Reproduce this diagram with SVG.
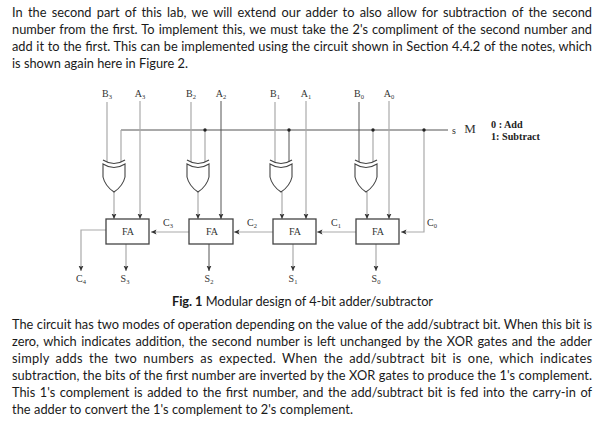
<svg xmlns="http://www.w3.org/2000/svg" width="605" height="429" viewBox="0 0 605 429">
<defs>
<marker id="ah" markerWidth="7" markerHeight="6" refX="5.500" refY="2.500" orient="auto" markerUnits="userSpaceOnUse"><path d="M0 0L5.500 2.500L0 5L1.200 2.500Z" fill="#333"/></marker>
<g id="xor"><path d="M0 0Q11 7 22 0" class="g"/><path d="M0 4Q11 11 22 4V17Q20 26 11 32Q2 26 0 17Z" class="g"/></g>
</defs>
<style>
.p{font:12.8px Lato,"Liberation Sans",sans-serif;fill:#1a1a1a}
.l{font:10px "Liberation Serif",serif;fill:#333;text-anchor:middle}
.s{font-size:6.500px}
.w{fill:none;stroke:#aaa;stroke-width:1.2;marker-end:url(#ah)}
.n{fill:none;stroke:#aaa;stroke-width:1.2}
.d{fill:none;stroke:#555;stroke-width:1}
.e{marker-end:url(#ah)}
.g{fill:none;stroke:#444;stroke-width:1.1}
.fa{fill:#fff;stroke:#444;stroke-width:1.300}
.b{font:bold 10.200px "Liberation Serif",serif;fill:#222}
.dot{fill:#222}
</style>
<rect width="605" height="429" fill="#fff"/>
<g id="text-top">
<text class="p" x="12" y="17" word-spacing="2" textLength="580">In the second part of this lab, we will extend our adder to also allow for subtraction of the second</text>
<text class="p" x="12" y="34" word-spacing="0.8" textLength="580">number from the first. To implement this, we must take the 2's compliment of the second number and</text>
<text class="p" x="12" y="51" word-spacing="0.4" textLength="580">add it to the first. This can be implemented using the circuit shown in Section 4.4.2 of the notes, which</text>
<text class="p" x="12" y="68" textLength="176">is shown again here in Figure 2.</text>
</g>
<g id="connectors">
<path class="d" d="M121 130H448"/>
<path class="n" d="M121 130V162M107 102V162M191 102V162M205 130V162M275 102V162M373 130V162"/>
<path class="d" d="M289 130V162M359 102V162"/>
<path class="w" d="M140 101V219"/>
<path class="d e" d="M221 101V219"/>
<path class="w" d="M306 101V219"/>
<path class="w" d="M389 101V219"/>
<path class="w" d="M114 192V219"/>
<path class="w" d="M198 192V219"/>
<path class="w" d="M282 192V219"/>
<path class="w" d="M367 192V219"/>
<path class="w" d="M189 232H151"/>
<path class="w" d="M273 232H234"/>
<path class="w" d="M356 232H317"/>
<path class="w" d="M424 130V232H401"/>
<path class="w" d="M106 230H81V271"/>
<path class="w" d="M126 244V271"/>
<path class="d e" d="M209 244V271"/>
<path class="w" d="M293 244V271"/>
<path class="w" d="M376 244V271"/>
<circle class="dot" cx="205" cy="130" r="1.700"/><circle class="dot" cx="289" cy="130" r="1.700"/><circle class="dot" cx="373" cy="130" r="1.700"/><circle class="dot" cx="424" cy="130" r="1.700"/>
</g>
<g id="xor3"><use href="#xor" x="103" y="160"/></g>
<g id="xor2"><use href="#xor" x="187" y="160"/></g>
<g id="xor1"><use href="#xor" x="270" y="160"/></g>
<g id="xor0"><use href="#xor" x="355" y="160"/></g>
<g id="fa3"><rect class="fa" x="106" y="219" width="43" height="25"/><text class="l" x="128" y="235">FA</text></g>
<g id="fa2"><rect class="fa" x="189" y="219" width="44" height="25"/><text class="l" x="212" y="235">FA</text></g>
<g id="fa1"><rect class="fa" x="273" y="219" width="43" height="25"/><text class="l" x="295" y="235">FA</text></g>
<g id="fa0"><rect class="fa" x="356" y="219" width="43" height="25"/><text class="l" x="378" y="235">FA</text></g>
<g id="labels">
<text class="l" x="107" y="97">B<tspan class="s" dy="1.500">3</tspan></text>
<text class="l" x="140" y="97">A<tspan class="s" dy="1.500">3</tspan></text>
<text class="l" x="191" y="97">B<tspan class="s" dy="1.500">2</tspan></text>
<text class="l" x="221" y="97">A<tspan class="s" dy="1.500">2</tspan></text>
<text class="l" x="275" y="97">B<tspan class="s" dy="1.500">1</tspan></text>
<text class="l" x="306" y="97">A<tspan class="s" dy="1.500">1</tspan></text>
<text class="l" x="359" y="97">B<tspan class="s" dy="1.500">0</tspan></text>
<text class="l" x="389" y="97">A<tspan class="s" dy="1.500">0</tspan></text>
<text class="l" x="168" y="226">C<tspan class="s" dy="1.500">3</tspan></text>
<text class="l" x="252" y="226">C<tspan class="s" dy="1.500">2</tspan></text>
<text class="l" x="336" y="226">C<tspan class="s" dy="1.500">1</tspan></text>
<text class="l" x="432" y="226">C<tspan class="s" dy="1.500">0</tspan></text>
<text class="l" x="81" y="282">C<tspan class="s" dy="1.500">4</tspan></text>
<text class="l" x="125" y="282">S<tspan class="s" dy="1.500">3</tspan></text>
<text class="l" x="209" y="282">S<tspan class="s" dy="1.500">2</tspan></text>
<text class="l" x="293" y="282">S<tspan class="s" dy="1.500">1</tspan></text>
<text class="l" x="376" y="282">S<tspan class="s" dy="1.500">0</tspan></text>
<text class="l" x="454" y="134">s</text>
<text class="l" x="470" y="133" style="font-size:13px">M</text>
<text class="b" x="491" y="128">0 : Add</text>
<text class="b" x="491" y="140">1: Subtract</text>
</g>
<g id="text-bottom">
<text class="p" x="172" y="306" textLength="261"><tspan font-weight="bold">Fig. 1</tspan> Modular design of 4-bit adder/subtractor</text>
<text class="p" x="12" y="329" word-spacing="0.1" textLength="580">The circuit has two modes of operation depending on the value of the add/subtract bit. When this bit is</text>
<text class="p" x="12" y="346" word-spacing="1.25" textLength="580">zero, which indicates addition, the second number is left unchanged by the XOR gates and the adder</text>
<text class="p" x="12" y="363" word-spacing="2.6" textLength="580">simply adds the two numbers as expected. When the add/subtract bit is one, which indicates</text>
<text class="p" x="12" y="380" textLength="580">subtraction, the bits of the first number are inverted by the XOR gates to produce the 1's complement.</text>
<text class="p" x="12" y="397" word-spacing="1.3" textLength="580">This 1's complement is added to the first number, and the add/subtract bit is fed into the carry-in of</text>
<text class="p" x="12" y="414" textLength="341">the adder to convert the 1's complement to 2's complement.</text>
</g>
</svg>
